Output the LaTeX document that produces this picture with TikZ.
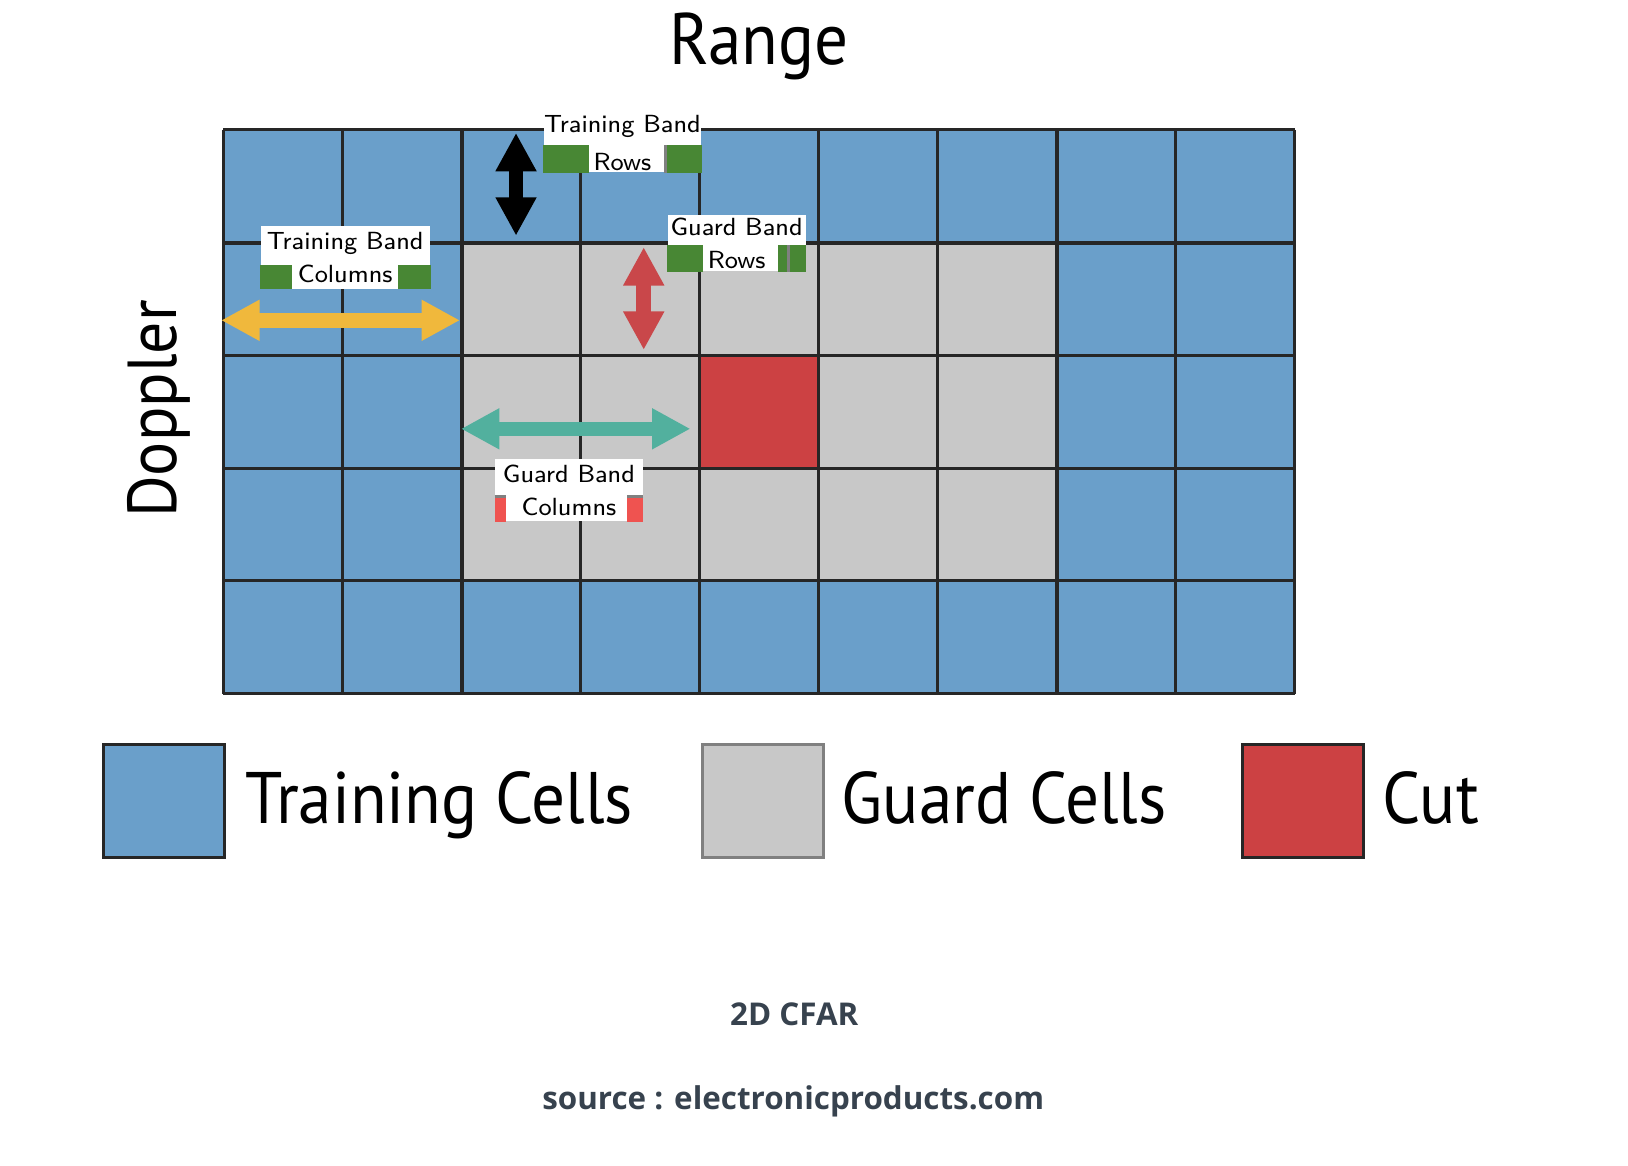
\documentclass[tikz,border=0pt]{standalone}
\usepackage{fontspec}
\usetikzlibrary{positioning,arrows.meta}
\newfontfamily\legendfont[FakeStretch=0.92]{PT Sans}
\newfontfamily\captionfont{Open Sans}
\definecolor{trainblue}{RGB}{106,159,202}
\definecolor{guardgray}{RGB}{200,200,200}
\definecolor{cutred}{RGB}{204,65,67}
\definecolor{bandgreen}{RGB}{72,135,52}
\definecolor{patchred}{RGB}{239,83,80}
\definecolor{trainyellow}{RGB}{240,184,60}
\definecolor{guardteal}{RGB}{82,176,158}
\definecolor{arrowred}{RGB}{201,71,74}
\definecolor{captiongray}{RGB}{55,66,78}

\begin{document}
\begin{tikzpicture}[
    cellline/.style={line width=0.03cm,draw=black!85},
    bandlabel/.style={fill=white,inner sep=0pt,align=center,font=\fontsize{6.8}{9}\sffamily},
    bandarrow/.style={<->,line width=0.14cm,>={Triangle[width=0.37cm,length=0.37cm]}},
    legendbox/.style={draw,line width=0.03cm,minimum width=1.16cm,minimum height=1.09cm,inner sep=0pt},
    legendtext/.style={anchor=base west,inner sep=0pt,font=\fontsize{20}{24}\legendfont},
    captiontext/.style={anchor=base,inner sep=0pt,text=captiongray,font=\fontsize{8.6}{10}\captionfont\bfseries},
]
    \useasboundingbox (0,0) rectangle (15.68,-11.23);

    % Axis titles
    \node[anchor=base,inner sep=0pt,font=\fontsize{20}{24}\legendfont] (range) at (7.31,-0.62) {Range};
    \node[anchor=base,rotate=90,inner sep=0pt,font=\fontsize{19}{24}\legendfont] (doppler) at (1.70,-3.94) {Doppler};

    % Cells
    \fill[trainblue] (2.15,-1.25) rectangle (12.47,-6.68);
    \fill[guardgray] (4.45,-2.34) rectangle (10.18,-5.59);
    \fill[cutred] (6.74,-3.42) rectangle (7.88,-4.51);
    \foreach \x in {2.15,3.30,4.45,5.59,6.74,7.88,9.03,10.18,11.32,12.47}
        \draw[cellline] (\x,-1.25) -- (\x,-6.68);
    \foreach \y in {-1.25,-2.34,-3.42,-4.51,-5.59,-6.68}
        \draw[cellline] (2.15,\y) -- (12.47,\y);

    % Band labels
    \node[bandlabel,minimum width=1.47cm,minimum height=0.57cm] (tbrows) at (5.995,-1.375) {Training Band\\[1.5pt]Rows};
    \fill[bandgreen] (tbrows.south west) rectangle ++(0.44,0.27);
    \fill[bandgreen] (tbrows.south east) rectangle ++(-0.33,0.27);
    \draw[gray,line width=0.03cm] ([xshift=-0.35cm]tbrows.south east) -- ++(0,0.27);

    \node[bandlabel,minimum width=1.63cm,minimum height=0.60cm] (tbcols) at (3.325,-2.48) {Training Band\\Columns};
    \fill[bandgreen] (tbcols.south west) rectangle ++(0.31,0.23);
    \fill[bandgreen] (tbcols.south east) rectangle ++(-0.31,0.23);

    \node[bandlabel,minimum width=1.33cm,minimum height=0.54cm] (gbrows) at (7.095,-2.34) {Guard Band\\Rows};
    \fill[bandgreen] (gbrows.south west) rectangle ++(0.35,0.26);
    \fill[bandgreen] (gbrows.south east) rectangle ++(-0.27,0.26);
    \draw[gray,line width=0.03cm] ([xshift=-0.17cm]gbrows.south east) -- ++(0,0.26);

    \node[bandlabel,minimum width=1.42cm,minimum height=0.60cm] (gbcols) at (5.48,-4.72) {Guard Band\\Columns};
    \fill[patchred] (gbcols.south west) rectangle ++(0.11,0.23);
    \fill[patchred] (gbcols.south east) rectangle ++(-0.16,0.23);
    \draw[gray,line width=0.03cm] ([yshift=0.245cm]gbcols.south west) -- ++(0.11,0);
    \draw[gray,line width=0.03cm] ([yshift=0.245cm]gbcols.south east) -- ++(-0.16,0);

    % Band arrows
    \coordinate (tbr-top) at (4.97,-1.28);
    \coordinate (tbr-bot) at (4.97,-2.27);
    \coordinate (tbc-left) at (2.13,-3.085);
    \coordinate (tbc-right) at (4.43,-3.085);
    \coordinate (gbr-top) at (6.20,-2.38);
    \coordinate (gbr-bot) at (6.20,-3.37);
    \coordinate (gbc-left) at (4.44,-4.13);
    \coordinate (gbc-right) at (6.65,-4.13);
    \draw[bandarrow,black] (tbr-top) -- (tbr-bot);
    \draw[bandarrow,trainyellow] (tbc-left) -- (tbc-right);
    \draw[bandarrow,arrowred] (gbr-top) -- (gbr-bot);
    \draw[bandarrow,guardteal] (gbc-left) -- (gbc-right);

    % Legend
    \node[legendbox,fill=trainblue,draw=black!85] (trainkey) at (1.58,-7.715) {};
    \node[legendtext] (trainname) at (2.36,-7.93) {Training Cells};
    \node[legendbox,fill=guardgray,draw=gray] (guardkey) at (7.35,-7.715) {};
    \node[legendtext] (guardname) at (8.10,-7.93) {Guard Cells};
    \node[legendbox,fill=cutred,draw=black!85] (cutkey) at (12.55,-7.715) {};
    \node[legendtext] (cutname) at (13.31,-7.93) {Cut};

    % Caption
    \node[captiontext] (title) at (7.65,-9.88) {2D CFAR};
    \node[captiontext] (source) at (7.64,-10.69) {source : electronicproducts.com};
\end{tikzpicture}
\end{document}
